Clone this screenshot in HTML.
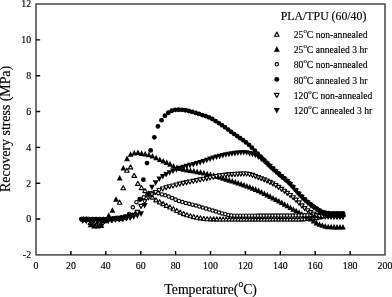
<!DOCTYPE html>
<html lang="en"><head><meta charset="utf-8"><title>Recovery stress vs temperature</title>
<style>html,body{margin:0;padding:0;background:#fff}body{width:392px;height:297px;overflow:hidden}</style></head>
<body>
<svg width="392" height="297" viewBox="0 0 392 297" style="display:block">
<rect width="392" height="297" fill="#fff"/>
<g><polygon points="80.87,220.99 85.37,220.99 83.12,216.94" fill="#fff" stroke="#000" stroke-width="1.15" stroke-linejoin="round"/><polygon points="84.51,221.01 89.01,221.01 86.76,216.96" fill="#fff" stroke="#000" stroke-width="1.15" stroke-linejoin="round"/><polygon points="88.16,224.48 92.66,224.48 90.41,220.43" fill="#fff" stroke="#000" stroke-width="1.15" stroke-linejoin="round"/><polygon points="91.81,225.15 96.31,225.15 94.06,221.10" fill="#fff" stroke="#000" stroke-width="1.15" stroke-linejoin="round"/><polygon points="95.45,225.27 99.95,225.27 97.70,221.22" fill="#fff" stroke="#000" stroke-width="1.15" stroke-linejoin="round"/><polygon points="99.10,224.82 103.60,224.82 101.35,220.77" fill="#fff" stroke="#000" stroke-width="1.15" stroke-linejoin="round"/><polygon points="102.75,222.60 107.25,222.60 105.00,218.55" fill="#fff" stroke="#000" stroke-width="1.15" stroke-linejoin="round"/><polygon points="106.39,220.74 110.89,220.74 108.64,216.69" fill="#fff" stroke="#000" stroke-width="1.15" stroke-linejoin="round"/><polygon points="110.04,220.46 114.54,220.46 112.29,216.41" fill="#fff" stroke="#000" stroke-width="1.15" stroke-linejoin="round"/><polygon points="113.69,220.07 118.19,220.07 115.94,216.02" fill="#fff" stroke="#000" stroke-width="1.15" stroke-linejoin="round"/><polygon points="117.34,204.20 121.84,204.20 119.59,200.15" fill="#fff" stroke="#000" stroke-width="1.15" stroke-linejoin="round"/><polygon points="120.98,189.77 125.48,189.77 123.23,185.72" fill="#fff" stroke="#000" stroke-width="1.15" stroke-linejoin="round"/><polygon points="124.63,172.24 129.13,172.24 126.88,168.19" fill="#fff" stroke="#000" stroke-width="1.15" stroke-linejoin="round"/><polygon points="128.28,168.93 132.78,168.93 130.53,164.88" fill="#fff" stroke="#000" stroke-width="1.15" stroke-linejoin="round"/><polygon points="131.92,177.39 136.42,177.39 134.17,173.34" fill="#fff" stroke="#000" stroke-width="1.15" stroke-linejoin="round"/><polygon points="135.57,185.32 140.07,185.32 137.82,181.27" fill="#fff" stroke="#000" stroke-width="1.15" stroke-linejoin="round"/><polygon points="139.22,189.64 143.72,189.64 141.47,185.59" fill="#fff" stroke="#000" stroke-width="1.15" stroke-linejoin="round"/><polygon points="142.86,192.55 147.36,192.55 145.11,188.50" fill="#fff" stroke="#000" stroke-width="1.15" stroke-linejoin="round"/><polygon points="146.51,195.25 151.01,195.25 148.76,191.20" fill="#fff" stroke="#000" stroke-width="1.15" stroke-linejoin="round"/><polygon points="150.16,199.05 154.66,199.05 152.41,195.00" fill="#fff" stroke="#000" stroke-width="1.15" stroke-linejoin="round"/><polygon points="153.81,201.87 158.31,201.87 156.06,197.82" fill="#fff" stroke="#000" stroke-width="1.15" stroke-linejoin="round"/><polygon points="157.41,203.85 161.91,203.85 159.66,199.80" fill="#fff" stroke="#000" stroke-width="1.15" stroke-linejoin="round"/><polygon points="160.91,205.65 165.41,205.65 163.16,201.60" fill="#fff" stroke="#000" stroke-width="1.15" stroke-linejoin="round"/><polygon points="164.34,207.31 168.84,207.31 166.59,203.26" fill="#fff" stroke="#000" stroke-width="1.15" stroke-linejoin="round"/><polygon points="167.77,208.97 172.27,208.97 170.02,204.92" fill="#fff" stroke="#000" stroke-width="1.15" stroke-linejoin="round"/><polygon points="171.18,210.73 175.68,210.73 173.43,206.68" fill="#fff" stroke="#000" stroke-width="1.15" stroke-linejoin="round"/><polygon points="174.59,212.51 179.09,212.51 176.84,208.46" fill="#fff" stroke="#000" stroke-width="1.15" stroke-linejoin="round"/><polygon points="177.99,214.17 182.49,214.17 180.24,210.12" fill="#fff" stroke="#000" stroke-width="1.15" stroke-linejoin="round"/><polygon points="181.38,215.61 185.88,215.61 183.63,211.56" fill="#fff" stroke="#000" stroke-width="1.15" stroke-linejoin="round"/><polygon points="184.76,216.73 189.26,216.73 187.01,212.68" fill="#fff" stroke="#000" stroke-width="1.15" stroke-linejoin="round"/><polygon points="188.14,217.72 192.64,217.72 190.39,213.67" fill="#fff" stroke="#000" stroke-width="1.15" stroke-linejoin="round"/><polygon points="191.50,218.55 196.00,218.55 193.75,214.50" fill="#fff" stroke="#000" stroke-width="1.15" stroke-linejoin="round"/><polygon points="194.86,219.23 199.36,219.23 197.11,215.18" fill="#fff" stroke="#000" stroke-width="1.15" stroke-linejoin="round"/><polygon points="198.21,219.88 202.71,219.88 200.46,215.83" fill="#fff" stroke="#000" stroke-width="1.15" stroke-linejoin="round"/><polygon points="201.55,220.44 206.05,220.44 203.80,216.39" fill="#fff" stroke="#000" stroke-width="1.15" stroke-linejoin="round"/><polygon points="204.86,220.77 209.36,220.77 207.11,216.72" fill="#fff" stroke="#000" stroke-width="1.15" stroke-linejoin="round"/><polygon points="208.14,220.85 212.64,220.85 210.39,216.80" fill="#fff" stroke="#000" stroke-width="1.15" stroke-linejoin="round"/><polygon points="211.37,220.90 215.87,220.90 213.62,216.85" fill="#fff" stroke="#000" stroke-width="1.15" stroke-linejoin="round"/><polygon points="214.57,220.94 219.07,220.94 216.82,216.89" fill="#fff" stroke="#000" stroke-width="1.15" stroke-linejoin="round"/><polygon points="217.72,220.97 222.22,220.97 219.97,216.92" fill="#fff" stroke="#000" stroke-width="1.15" stroke-linejoin="round"/><polygon points="220.84,220.99 225.34,220.99 223.09,216.94" fill="#fff" stroke="#000" stroke-width="1.15" stroke-linejoin="round"/><polygon points="223.93,220.99 228.43,220.99 226.18,216.94" fill="#fff" stroke="#000" stroke-width="1.15" stroke-linejoin="round"/><polygon points="226.97,220.99 231.47,220.99 229.22,216.94" fill="#fff" stroke="#000" stroke-width="1.15" stroke-linejoin="round"/><polygon points="229.98,220.99 234.48,220.99 232.23,216.94" fill="#fff" stroke="#000" stroke-width="1.15" stroke-linejoin="round"/><polygon points="232.95,220.99 237.45,220.99 235.20,216.94" fill="#fff" stroke="#000" stroke-width="1.15" stroke-linejoin="round"/><polygon points="235.89,220.99 240.39,220.99 238.14,216.94" fill="#fff" stroke="#000" stroke-width="1.15" stroke-linejoin="round"/><polygon points="238.81,220.99 243.31,220.99 241.06,216.94" fill="#fff" stroke="#000" stroke-width="1.15" stroke-linejoin="round"/><polygon points="241.72,220.99 246.22,220.99 243.97,216.94" fill="#fff" stroke="#000" stroke-width="1.15" stroke-linejoin="round"/><polygon points="244.64,220.99 249.14,220.99 246.89,216.94" fill="#fff" stroke="#000" stroke-width="1.15" stroke-linejoin="round"/><polygon points="247.55,220.99 252.05,220.99 249.80,216.94" fill="#fff" stroke="#000" stroke-width="1.15" stroke-linejoin="round"/><polygon points="250.46,220.99 254.96,220.99 252.71,216.94" fill="#fff" stroke="#000" stroke-width="1.15" stroke-linejoin="round"/><polygon points="253.37,220.99 257.87,220.99 255.62,216.94" fill="#fff" stroke="#000" stroke-width="1.15" stroke-linejoin="round"/><polygon points="256.27,220.99 260.77,220.99 258.52,216.94" fill="#fff" stroke="#000" stroke-width="1.15" stroke-linejoin="round"/><polygon points="259.17,220.99 263.67,220.99 261.42,216.94" fill="#fff" stroke="#000" stroke-width="1.15" stroke-linejoin="round"/><polygon points="262.07,220.99 266.57,220.99 264.32,216.94" fill="#fff" stroke="#000" stroke-width="1.15" stroke-linejoin="round"/><polygon points="264.97,220.99 269.47,220.99 267.22,216.94" fill="#fff" stroke="#000" stroke-width="1.15" stroke-linejoin="round"/><polygon points="267.87,220.99 272.37,220.99 270.12,216.94" fill="#fff" stroke="#000" stroke-width="1.15" stroke-linejoin="round"/><polygon points="270.76,220.99 275.26,220.99 273.01,216.94" fill="#fff" stroke="#000" stroke-width="1.15" stroke-linejoin="round"/><polygon points="273.65,220.99 278.15,220.99 275.90,216.94" fill="#fff" stroke="#000" stroke-width="1.15" stroke-linejoin="round"/><polygon points="276.54,220.99 281.04,220.99 278.79,216.94" fill="#fff" stroke="#000" stroke-width="1.15" stroke-linejoin="round"/><polygon points="279.43,220.99 283.93,220.99 281.68,216.94" fill="#fff" stroke="#000" stroke-width="1.15" stroke-linejoin="round"/><polygon points="282.31,220.99 286.81,220.99 284.56,216.94" fill="#fff" stroke="#000" stroke-width="1.15" stroke-linejoin="round"/><polygon points="285.20,220.99 289.70,220.99 287.45,216.94" fill="#fff" stroke="#000" stroke-width="1.15" stroke-linejoin="round"/><polygon points="288.10,220.99 292.60,220.99 290.35,216.94" fill="#fff" stroke="#000" stroke-width="1.15" stroke-linejoin="round"/><polygon points="290.99,220.99 295.49,220.99 293.24,216.94" fill="#fff" stroke="#000" stroke-width="1.15" stroke-linejoin="round"/><polygon points="293.89,220.99 298.39,220.99 296.14,216.94" fill="#fff" stroke="#000" stroke-width="1.15" stroke-linejoin="round"/><polygon points="296.79,220.98 301.29,220.98 299.04,216.93" fill="#fff" stroke="#000" stroke-width="1.15" stroke-linejoin="round"/><polygon points="299.70,220.89 304.20,220.89 301.95,216.84" fill="#fff" stroke="#000" stroke-width="1.15" stroke-linejoin="round"/><polygon points="302.60,220.74 307.10,220.74 304.85,216.69" fill="#fff" stroke="#000" stroke-width="1.15" stroke-linejoin="round"/><polygon points="305.52,220.54 310.02,220.54 307.77,216.49" fill="#fff" stroke="#000" stroke-width="1.15" stroke-linejoin="round"/><polygon points="308.43,220.30 312.93,220.30 310.68,216.25" fill="#fff" stroke="#000" stroke-width="1.15" stroke-linejoin="round"/><polygon points="311.35,220.03 315.85,220.03 313.60,215.98" fill="#fff" stroke="#000" stroke-width="1.15" stroke-linejoin="round"/><polygon points="314.27,219.65 318.77,219.65 316.52,215.60" fill="#fff" stroke="#000" stroke-width="1.15" stroke-linejoin="round"/><polygon points="317.19,218.94 321.69,218.94 319.44,214.89" fill="#fff" stroke="#000" stroke-width="1.15" stroke-linejoin="round"/><polygon points="320.12,218.09 324.62,218.09 322.37,214.04" fill="#fff" stroke="#000" stroke-width="1.15" stroke-linejoin="round"/><polygon points="323.04,217.33 327.54,217.33 325.29,213.28" fill="#fff" stroke="#000" stroke-width="1.15" stroke-linejoin="round"/><polygon points="325.98,216.90 330.48,216.90 328.23,212.85" fill="#fff" stroke="#000" stroke-width="1.15" stroke-linejoin="round"/><polygon points="328.91,216.78 333.41,216.78 331.16,212.73" fill="#fff" stroke="#000" stroke-width="1.15" stroke-linejoin="round"/><polygon points="331.85,216.69 336.35,216.69 334.10,212.64" fill="#fff" stroke="#000" stroke-width="1.15" stroke-linejoin="round"/><polygon points="334.79,216.61 339.29,216.61 337.04,212.56" fill="#fff" stroke="#000" stroke-width="1.15" stroke-linejoin="round"/><polygon points="337.74,216.56 342.24,216.56 339.99,212.51" fill="#fff" stroke="#000" stroke-width="1.15" stroke-linejoin="round"/><polygon points="340.68,216.52 345.18,216.52 342.93,212.47" fill="#fff" stroke="#000" stroke-width="1.15" stroke-linejoin="round"/></g>
<g><polygon points="80.30,221.51 86.10,221.51 83.20,215.96" fill="#000"/><polygon points="83.95,221.74 89.75,221.74 86.85,216.19" fill="#000"/><polygon points="87.60,227.29 93.40,227.29 90.50,221.74" fill="#000"/><polygon points="91.24,228.44 97.04,228.44 94.14,222.89" fill="#000"/><polygon points="94.89,228.57 100.69,228.57 97.79,223.02" fill="#000"/><polygon points="98.54,227.97 104.34,227.97 101.44,222.42" fill="#000"/><polygon points="102.18,222.62 107.98,222.62 105.08,217.07" fill="#000"/><polygon points="105.83,218.12 111.63,218.12 108.73,212.57" fill="#000"/><polygon points="109.48,212.73 115.28,212.73 112.38,207.18" fill="#000"/><polygon points="113.13,201.76 118.93,201.76 116.03,196.21" fill="#000"/><polygon points="116.77,180.62 122.57,180.62 119.67,175.07" fill="#000"/><polygon points="120.42,170.46 126.22,170.46 123.32,164.91" fill="#000"/><polygon points="124.07,161.15 129.87,161.15 126.97,155.60" fill="#000"/><polygon points="127.71,156.76 133.51,156.76 130.61,151.21" fill="#000"/><polygon points="131.36,155.38 137.16,155.38 134.26,149.83" fill="#000"/><polygon points="135.01,154.97 140.81,154.97 137.91,149.42" fill="#000"/><polygon points="138.66,155.91 144.46,155.91 141.56,150.36" fill="#000"/><polygon points="142.30,156.41 148.10,156.41 145.20,150.86" fill="#000"/><polygon points="145.95,157.30 151.75,157.30 148.85,151.75" fill="#000"/><polygon points="149.60,158.61 155.40,158.61 152.50,153.06" fill="#000"/><polygon points="153.24,160.34 159.04,160.34 156.14,154.79" fill="#000"/><polygon points="156.85,162.05 162.65,162.05 159.75,156.50" fill="#000"/><polygon points="160.34,163.48 166.14,163.48 163.24,157.93" fill="#000"/><polygon points="163.77,164.89 169.57,164.89 166.67,159.34" fill="#000"/><polygon points="167.20,166.67 173.00,166.67 170.10,161.12" fill="#000"/><polygon points="170.61,168.61 176.41,168.61 173.51,163.06" fill="#000"/><polygon points="174.02,170.17 179.82,170.17 176.92,164.62" fill="#000"/><polygon points="177.42,171.08 183.22,171.08 180.32,165.53" fill="#000"/><polygon points="180.81,171.76 186.61,171.76 183.71,166.21" fill="#000"/><polygon points="184.19,172.38 189.99,172.38 187.09,166.83" fill="#000"/><polygon points="187.56,173.02 193.36,173.02 190.46,167.47" fill="#000"/><polygon points="190.93,173.62 196.73,173.62 193.83,168.07" fill="#000"/><polygon points="194.28,174.22 200.08,174.22 197.18,168.67" fill="#000"/><polygon points="197.63,174.87 203.43,174.87 200.53,169.32" fill="#000"/><polygon points="200.97,175.54 206.77,175.54 203.87,169.99" fill="#000"/><polygon points="204.28,176.23 210.08,176.23 207.18,170.68" fill="#000"/><polygon points="207.55,176.97 213.35,176.97 210.45,171.42" fill="#000"/><polygon points="210.78,177.76 216.58,177.76 213.68,172.21" fill="#000"/><polygon points="213.98,178.70 219.78,178.70 216.88,173.15" fill="#000"/><polygon points="217.13,179.74 222.93,179.74 220.03,174.19" fill="#000"/><polygon points="220.25,180.74 226.05,180.74 223.15,175.19" fill="#000"/><polygon points="223.33,181.70 229.13,181.70 226.23,176.15" fill="#000"/><polygon points="226.37,182.65 232.17,182.65 229.27,177.10" fill="#000"/><polygon points="229.38,183.59 235.18,183.59 232.28,178.04" fill="#000"/><polygon points="232.35,184.55 238.15,184.55 235.25,179.00" fill="#000"/><polygon points="235.28,185.49 241.08,185.49 238.18,179.94" fill="#000"/><polygon points="238.20,186.44 244.00,186.44 241.10,180.89" fill="#000"/><polygon points="241.12,187.43 246.92,187.43 244.02,181.88" fill="#000"/><polygon points="244.03,188.47 249.83,188.47 246.93,182.92" fill="#000"/><polygon points="246.94,189.56 252.74,189.56 249.84,184.01" fill="#000"/><polygon points="249.85,190.70 255.65,190.70 252.75,185.15" fill="#000"/><polygon points="252.75,191.90 258.55,191.90 255.65,186.35" fill="#000"/><polygon points="255.66,193.15 261.46,193.15 258.56,187.60" fill="#000"/><polygon points="258.56,194.50 264.36,194.50 261.46,188.95" fill="#000"/><polygon points="261.46,195.93 267.26,195.93 264.36,190.38" fill="#000"/><polygon points="264.35,197.41 270.15,197.41 267.25,191.86" fill="#000"/><polygon points="267.25,198.92 273.05,198.92 270.15,193.37" fill="#000"/><polygon points="270.14,200.43 275.94,200.43 273.04,194.88" fill="#000"/><polygon points="273.03,201.97 278.83,201.97 275.93,196.42" fill="#000"/><polygon points="275.91,203.53 281.71,203.53 278.81,197.98" fill="#000"/><polygon points="278.80,205.12 284.60,205.12 281.70,199.57" fill="#000"/><polygon points="281.68,206.73 287.48,206.73 284.58,201.18" fill="#000"/><polygon points="284.57,208.36 290.37,208.36 287.47,202.81" fill="#000"/><polygon points="287.46,210.06 293.26,210.06 290.36,204.51" fill="#000"/><polygon points="290.36,211.76 296.16,211.76 293.26,206.21" fill="#000"/><polygon points="293.26,213.37 299.06,213.37 296.16,207.82" fill="#000"/><polygon points="296.16,214.91 301.96,214.91 299.06,209.36" fill="#000"/><polygon points="299.06,216.43 304.86,216.43 301.96,210.88" fill="#000"/><polygon points="301.97,217.99 307.77,217.99 304.87,212.44" fill="#000"/><polygon points="304.87,219.61 310.67,219.61 307.77,214.06" fill="#000"/><polygon points="307.79,221.49 313.59,221.49 310.69,215.94" fill="#000"/><polygon points="310.70,223.52 316.50,223.52 313.60,217.97" fill="#000"/><polygon points="313.62,225.41 319.42,225.41 316.52,219.86" fill="#000"/><polygon points="316.54,226.83 322.34,226.83 319.44,221.28" fill="#000"/><polygon points="319.47,227.79 325.27,227.79 322.37,222.24" fill="#000"/><polygon points="322.40,228.63 328.20,228.63 325.30,223.08" fill="#000"/><polygon points="325.33,229.19 331.13,229.19 328.23,223.64" fill="#000"/><polygon points="328.26,229.36 334.06,229.36 331.16,223.81" fill="#000"/><polygon points="331.20,229.41 337.00,229.41 334.10,223.86" fill="#000"/><polygon points="334.14,229.46 339.94,229.46 337.04,223.91" fill="#000"/><polygon points="337.08,229.49 342.88,229.49 339.98,223.94" fill="#000"/><polygon points="340.03,229.50 345.83,229.50 342.93,223.95" fill="#000"/></g>
<g><circle cx="81.72" cy="219.06" r="1.7" fill="#fff" stroke="#000" stroke-width="1.15" stroke-linejoin="round"/><circle cx="85.37" cy="219.06" r="1.7" fill="#fff" stroke="#000" stroke-width="1.15" stroke-linejoin="round"/><circle cx="89.01" cy="219.06" r="1.7" fill="#fff" stroke="#000" stroke-width="1.15" stroke-linejoin="round"/><circle cx="92.66" cy="219.06" r="1.7" fill="#fff" stroke="#000" stroke-width="1.15" stroke-linejoin="round"/><circle cx="96.31" cy="219.06" r="1.7" fill="#fff" stroke="#000" stroke-width="1.15" stroke-linejoin="round"/><circle cx="99.95" cy="219.06" r="1.7" fill="#fff" stroke="#000" stroke-width="1.15" stroke-linejoin="round"/><circle cx="103.60" cy="219.06" r="1.7" fill="#fff" stroke="#000" stroke-width="1.15" stroke-linejoin="round"/><circle cx="107.25" cy="219.06" r="1.7" fill="#fff" stroke="#000" stroke-width="1.15" stroke-linejoin="round"/><circle cx="110.90" cy="219.06" r="1.7" fill="#fff" stroke="#000" stroke-width="1.15" stroke-linejoin="round"/><circle cx="114.54" cy="219.06" r="1.7" fill="#fff" stroke="#000" stroke-width="1.15" stroke-linejoin="round"/><circle cx="118.19" cy="219.06" r="1.7" fill="#fff" stroke="#000" stroke-width="1.15" stroke-linejoin="round"/><circle cx="121.84" cy="219.06" r="1.7" fill="#fff" stroke="#000" stroke-width="1.15" stroke-linejoin="round"/><circle cx="125.48" cy="217.81" r="1.7" fill="#fff" stroke="#000" stroke-width="1.15" stroke-linejoin="round"/><circle cx="129.13" cy="213.98" r="1.7" fill="#fff" stroke="#000" stroke-width="1.15" stroke-linejoin="round"/><circle cx="132.78" cy="207.28" r="1.7" fill="#fff" stroke="#000" stroke-width="1.15" stroke-linejoin="round"/><circle cx="136.42" cy="202.15" r="1.7" fill="#fff" stroke="#000" stroke-width="1.15" stroke-linejoin="round"/><circle cx="140.07" cy="199.62" r="1.7" fill="#fff" stroke="#000" stroke-width="1.15" stroke-linejoin="round"/><circle cx="143.72" cy="197.35" r="1.7" fill="#fff" stroke="#000" stroke-width="1.15" stroke-linejoin="round"/><circle cx="147.37" cy="194.76" r="1.7" fill="#fff" stroke="#000" stroke-width="1.15" stroke-linejoin="round"/><circle cx="151.01" cy="192.98" r="1.7" fill="#fff" stroke="#000" stroke-width="1.15" stroke-linejoin="round"/><circle cx="154.66" cy="192.36" r="1.7" fill="#fff" stroke="#000" stroke-width="1.15" stroke-linejoin="round"/><circle cx="158.31" cy="193.20" r="1.7" fill="#fff" stroke="#000" stroke-width="1.15" stroke-linejoin="round"/><circle cx="161.84" cy="194.44" r="1.7" fill="#fff" stroke="#000" stroke-width="1.15" stroke-linejoin="round"/><circle cx="165.28" cy="195.34" r="1.7" fill="#fff" stroke="#000" stroke-width="1.15" stroke-linejoin="round"/><circle cx="168.71" cy="196.52" r="1.7" fill="#fff" stroke="#000" stroke-width="1.15" stroke-linejoin="round"/><circle cx="172.14" cy="198.09" r="1.7" fill="#fff" stroke="#000" stroke-width="1.15" stroke-linejoin="round"/><circle cx="175.55" cy="199.64" r="1.7" fill="#fff" stroke="#000" stroke-width="1.15" stroke-linejoin="round"/><circle cx="178.97" cy="200.95" r="1.7" fill="#fff" stroke="#000" stroke-width="1.15" stroke-linejoin="round"/><circle cx="182.37" cy="202.04" r="1.7" fill="#fff" stroke="#000" stroke-width="1.15" stroke-linejoin="round"/><circle cx="185.77" cy="203.00" r="1.7" fill="#fff" stroke="#000" stroke-width="1.15" stroke-linejoin="round"/><circle cx="189.16" cy="203.86" r="1.7" fill="#fff" stroke="#000" stroke-width="1.15" stroke-linejoin="round"/><circle cx="192.55" cy="204.70" r="1.7" fill="#fff" stroke="#000" stroke-width="1.15" stroke-linejoin="round"/><circle cx="195.93" cy="205.59" r="1.7" fill="#fff" stroke="#000" stroke-width="1.15" stroke-linejoin="round"/><circle cx="199.30" cy="206.55" r="1.7" fill="#fff" stroke="#000" stroke-width="1.15" stroke-linejoin="round"/><circle cx="202.67" cy="207.56" r="1.7" fill="#fff" stroke="#000" stroke-width="1.15" stroke-linejoin="round"/><circle cx="206.02" cy="208.59" r="1.7" fill="#fff" stroke="#000" stroke-width="1.15" stroke-linejoin="round"/><circle cx="209.33" cy="209.59" r="1.7" fill="#fff" stroke="#000" stroke-width="1.15" stroke-linejoin="round"/><circle cx="212.60" cy="210.56" r="1.7" fill="#fff" stroke="#000" stroke-width="1.15" stroke-linejoin="round"/><circle cx="215.83" cy="211.57" r="1.7" fill="#fff" stroke="#000" stroke-width="1.15" stroke-linejoin="round"/><circle cx="219.03" cy="212.56" r="1.7" fill="#fff" stroke="#000" stroke-width="1.15" stroke-linejoin="round"/><circle cx="222.18" cy="213.47" r="1.7" fill="#fff" stroke="#000" stroke-width="1.15" stroke-linejoin="round"/><circle cx="225.30" cy="214.24" r="1.7" fill="#fff" stroke="#000" stroke-width="1.15" stroke-linejoin="round"/><circle cx="228.38" cy="214.91" r="1.7" fill="#fff" stroke="#000" stroke-width="1.15" stroke-linejoin="round"/><circle cx="231.42" cy="215.49" r="1.7" fill="#fff" stroke="#000" stroke-width="1.15" stroke-linejoin="round"/><circle cx="234.42" cy="215.65" r="1.7" fill="#fff" stroke="#000" stroke-width="1.15" stroke-linejoin="round"/><circle cx="237.39" cy="215.65" r="1.7" fill="#fff" stroke="#000" stroke-width="1.15" stroke-linejoin="round"/><circle cx="240.33" cy="215.65" r="1.7" fill="#fff" stroke="#000" stroke-width="1.15" stroke-linejoin="round"/><circle cx="243.27" cy="215.65" r="1.7" fill="#fff" stroke="#000" stroke-width="1.15" stroke-linejoin="round"/><circle cx="246.21" cy="215.65" r="1.7" fill="#fff" stroke="#000" stroke-width="1.15" stroke-linejoin="round"/><circle cx="249.14" cy="215.65" r="1.7" fill="#fff" stroke="#000" stroke-width="1.15" stroke-linejoin="round"/><circle cx="252.07" cy="215.65" r="1.7" fill="#fff" stroke="#000" stroke-width="1.15" stroke-linejoin="round"/><circle cx="255.00" cy="215.65" r="1.7" fill="#fff" stroke="#000" stroke-width="1.15" stroke-linejoin="round"/><circle cx="257.93" cy="215.64" r="1.7" fill="#fff" stroke="#000" stroke-width="1.15" stroke-linejoin="round"/><circle cx="260.86" cy="215.64" r="1.7" fill="#fff" stroke="#000" stroke-width="1.15" stroke-linejoin="round"/><circle cx="263.78" cy="215.63" r="1.7" fill="#fff" stroke="#000" stroke-width="1.15" stroke-linejoin="round"/><circle cx="266.70" cy="215.62" r="1.7" fill="#fff" stroke="#000" stroke-width="1.15" stroke-linejoin="round"/><circle cx="269.62" cy="215.61" r="1.7" fill="#fff" stroke="#000" stroke-width="1.15" stroke-linejoin="round"/><circle cx="272.53" cy="215.60" r="1.7" fill="#fff" stroke="#000" stroke-width="1.15" stroke-linejoin="round"/><circle cx="275.44" cy="215.59" r="1.7" fill="#fff" stroke="#000" stroke-width="1.15" stroke-linejoin="round"/><circle cx="278.36" cy="215.58" r="1.7" fill="#fff" stroke="#000" stroke-width="1.15" stroke-linejoin="round"/><circle cx="281.26" cy="215.57" r="1.7" fill="#fff" stroke="#000" stroke-width="1.15" stroke-linejoin="round"/><circle cx="284.17" cy="215.55" r="1.7" fill="#fff" stroke="#000" stroke-width="1.15" stroke-linejoin="round"/><circle cx="287.08" cy="215.54" r="1.7" fill="#fff" stroke="#000" stroke-width="1.15" stroke-linejoin="round"/><circle cx="290.00" cy="215.52" r="1.7" fill="#fff" stroke="#000" stroke-width="1.15" stroke-linejoin="round"/><circle cx="292.91" cy="215.50" r="1.7" fill="#fff" stroke="#000" stroke-width="1.15" stroke-linejoin="round"/><circle cx="295.83" cy="215.48" r="1.7" fill="#fff" stroke="#000" stroke-width="1.15" stroke-linejoin="round"/><circle cx="298.76" cy="215.46" r="1.7" fill="#fff" stroke="#000" stroke-width="1.15" stroke-linejoin="round"/><circle cx="301.68" cy="215.41" r="1.7" fill="#fff" stroke="#000" stroke-width="1.15" stroke-linejoin="round"/><circle cx="304.61" cy="215.33" r="1.7" fill="#fff" stroke="#000" stroke-width="1.15" stroke-linejoin="round"/><circle cx="307.55" cy="215.23" r="1.7" fill="#fff" stroke="#000" stroke-width="1.15" stroke-linejoin="round"/><circle cx="310.48" cy="215.12" r="1.7" fill="#fff" stroke="#000" stroke-width="1.15" stroke-linejoin="round"/><circle cx="313.42" cy="214.99" r="1.7" fill="#fff" stroke="#000" stroke-width="1.15" stroke-linejoin="round"/><circle cx="316.36" cy="214.87" r="1.7" fill="#fff" stroke="#000" stroke-width="1.15" stroke-linejoin="round"/><circle cx="319.31" cy="214.74" r="1.7" fill="#fff" stroke="#000" stroke-width="1.15" stroke-linejoin="round"/><circle cx="322.25" cy="214.62" r="1.7" fill="#fff" stroke="#000" stroke-width="1.15" stroke-linejoin="round"/><circle cx="325.21" cy="214.51" r="1.7" fill="#fff" stroke="#000" stroke-width="1.15" stroke-linejoin="round"/><circle cx="328.16" cy="214.40" r="1.7" fill="#fff" stroke="#000" stroke-width="1.15" stroke-linejoin="round"/><circle cx="331.12" cy="214.28" r="1.7" fill="#fff" stroke="#000" stroke-width="1.15" stroke-linejoin="round"/><circle cx="334.08" cy="214.16" r="1.7" fill="#fff" stroke="#000" stroke-width="1.15" stroke-linejoin="round"/><circle cx="337.04" cy="214.04" r="1.7" fill="#fff" stroke="#000" stroke-width="1.15" stroke-linejoin="round"/><circle cx="340.01" cy="213.92" r="1.7" fill="#fff" stroke="#000" stroke-width="1.15" stroke-linejoin="round"/><circle cx="342.98" cy="213.79" r="1.7" fill="#fff" stroke="#000" stroke-width="1.15" stroke-linejoin="round"/></g>
<g><circle cx="81.37" cy="219.06" r="2.4" fill="#000"/><circle cx="85.02" cy="219.06" r="2.4" fill="#000"/><circle cx="88.66" cy="219.06" r="2.4" fill="#000"/><circle cx="92.31" cy="219.06" r="2.4" fill="#000"/><circle cx="95.96" cy="219.06" r="2.4" fill="#000"/><circle cx="99.61" cy="219.06" r="2.4" fill="#000"/><circle cx="103.25" cy="219.06" r="2.4" fill="#000"/><circle cx="106.90" cy="219.03" r="2.4" fill="#000"/><circle cx="110.55" cy="218.79" r="2.4" fill="#000"/><circle cx="114.19" cy="218.41" r="2.4" fill="#000"/><circle cx="117.84" cy="217.94" r="2.4" fill="#000"/><circle cx="121.49" cy="217.22" r="2.4" fill="#000"/><circle cx="125.13" cy="216.33" r="2.4" fill="#000"/><circle cx="128.78" cy="215.49" r="2.4" fill="#000"/><circle cx="132.43" cy="214.90" r="2.4" fill="#000"/><circle cx="136.08" cy="213.73" r="2.4" fill="#000"/><circle cx="139.72" cy="199.10" r="2.4" fill="#000"/><circle cx="143.37" cy="179.64" r="2.4" fill="#000"/><circle cx="147.02" cy="163.07" r="2.4" fill="#000"/><circle cx="150.66" cy="150.42" r="2.4" fill="#000"/><circle cx="154.31" cy="137.34" r="2.4" fill="#000"/><circle cx="157.96" cy="126.39" r="2.4" fill="#000"/><circle cx="161.51" cy="120.16" r="2.4" fill="#000"/><circle cx="164.95" cy="115.65" r="2.4" fill="#000"/><circle cx="168.38" cy="112.73" r="2.4" fill="#000"/><circle cx="171.81" cy="110.75" r="2.4" fill="#000"/><circle cx="175.23" cy="109.86" r="2.4" fill="#000"/><circle cx="178.64" cy="109.74" r="2.4" fill="#000"/><circle cx="182.05" cy="109.87" r="2.4" fill="#000"/><circle cx="185.45" cy="110.24" r="2.4" fill="#000"/><circle cx="188.84" cy="110.99" r="2.4" fill="#000"/><circle cx="192.23" cy="111.94" r="2.4" fill="#000"/><circle cx="195.62" cy="112.89" r="2.4" fill="#000"/><circle cx="199.00" cy="113.96" r="2.4" fill="#000"/><circle cx="202.37" cy="115.07" r="2.4" fill="#000"/><circle cx="205.73" cy="116.18" r="2.4" fill="#000"/><circle cx="209.05" cy="117.39" r="2.4" fill="#000"/><circle cx="212.33" cy="119.01" r="2.4" fill="#000"/><circle cx="215.57" cy="121.04" r="2.4" fill="#000"/><circle cx="218.77" cy="123.09" r="2.4" fill="#000"/><circle cx="221.93" cy="125.18" r="2.4" fill="#000"/><circle cx="225.05" cy="127.34" r="2.4" fill="#000"/><circle cx="228.14" cy="129.60" r="2.4" fill="#000"/><circle cx="231.19" cy="131.90" r="2.4" fill="#000"/><circle cx="234.20" cy="134.05" r="2.4" fill="#000"/><circle cx="237.18" cy="136.08" r="2.4" fill="#000"/><circle cx="240.12" cy="138.14" r="2.4" fill="#000"/><circle cx="243.07" cy="140.22" r="2.4" fill="#000"/><circle cx="246.01" cy="142.39" r="2.4" fill="#000"/><circle cx="248.95" cy="144.86" r="2.4" fill="#000"/><circle cx="251.88" cy="147.68" r="2.4" fill="#000"/><circle cx="254.82" cy="150.70" r="2.4" fill="#000"/><circle cx="257.75" cy="153.77" r="2.4" fill="#000"/><circle cx="260.68" cy="156.75" r="2.4" fill="#000"/><circle cx="263.61" cy="159.75" r="2.4" fill="#000"/><circle cx="266.53" cy="162.70" r="2.4" fill="#000"/><circle cx="269.45" cy="165.51" r="2.4" fill="#000"/><circle cx="272.37" cy="168.20" r="2.4" fill="#000"/><circle cx="275.29" cy="170.81" r="2.4" fill="#000"/><circle cx="278.21" cy="173.36" r="2.4" fill="#000"/><circle cx="281.12" cy="175.86" r="2.4" fill="#000"/><circle cx="284.03" cy="178.21" r="2.4" fill="#000"/><circle cx="286.95" cy="180.63" r="2.4" fill="#000"/><circle cx="289.86" cy="183.46" r="2.4" fill="#000"/><circle cx="292.78" cy="186.69" r="2.4" fill="#000"/><circle cx="295.71" cy="190.08" r="2.4" fill="#000"/><circle cx="298.64" cy="193.39" r="2.4" fill="#000"/><circle cx="301.57" cy="196.40" r="2.4" fill="#000"/><circle cx="304.50" cy="199.19" r="2.4" fill="#000"/><circle cx="307.44" cy="201.80" r="2.4" fill="#000"/><circle cx="310.38" cy="204.23" r="2.4" fill="#000"/><circle cx="313.32" cy="206.47" r="2.4" fill="#000"/><circle cx="316.27" cy="208.46" r="2.4" fill="#000"/><circle cx="319.22" cy="210.38" r="2.4" fill="#000"/><circle cx="322.17" cy="211.87" r="2.4" fill="#000"/><circle cx="325.12" cy="212.62" r="2.4" fill="#000"/><circle cx="328.08" cy="213.17" r="2.4" fill="#000"/><circle cx="331.04" cy="213.47" r="2.4" fill="#000"/><circle cx="334.01" cy="213.50" r="2.4" fill="#000"/><circle cx="336.98" cy="213.50" r="2.4" fill="#000"/><circle cx="339.95" cy="213.50" r="2.4" fill="#000"/><circle cx="342.92" cy="213.50" r="2.4" fill="#000"/></g>
<g><polygon points="80.43,218.72 84.93,218.72 82.68,222.77" fill="#fff" stroke="#000" stroke-width="1.15" stroke-linejoin="round"/><polygon points="84.08,218.87 88.58,218.87 86.33,222.92" fill="#fff" stroke="#000" stroke-width="1.15" stroke-linejoin="round"/><polygon points="87.72,218.98 92.22,218.98 89.97,223.03" fill="#fff" stroke="#000" stroke-width="1.15" stroke-linejoin="round"/><polygon points="91.37,219.04 95.87,219.04 93.62,223.09" fill="#fff" stroke="#000" stroke-width="1.15" stroke-linejoin="round"/><polygon points="95.02,219.07 99.52,219.07 97.27,223.12" fill="#fff" stroke="#000" stroke-width="1.15" stroke-linejoin="round"/><polygon points="98.66,219.09 103.16,219.09 100.91,223.14" fill="#fff" stroke="#000" stroke-width="1.15" stroke-linejoin="round"/><polygon points="102.31,219.09 106.81,219.09 104.56,223.14" fill="#fff" stroke="#000" stroke-width="1.15" stroke-linejoin="round"/><polygon points="105.96,218.92 110.46,218.92 108.21,222.97" fill="#fff" stroke="#000" stroke-width="1.15" stroke-linejoin="round"/><polygon points="109.61,218.38 114.11,218.38 111.86,222.43" fill="#fff" stroke="#000" stroke-width="1.15" stroke-linejoin="round"/><polygon points="113.25,217.77 117.75,217.77 115.50,221.82" fill="#fff" stroke="#000" stroke-width="1.15" stroke-linejoin="round"/><polygon points="116.90,217.32 121.40,217.32 119.15,221.37" fill="#fff" stroke="#000" stroke-width="1.15" stroke-linejoin="round"/><polygon points="120.55,216.92 125.05,216.92 122.80,220.97" fill="#fff" stroke="#000" stroke-width="1.15" stroke-linejoin="round"/><polygon points="124.19,216.42 128.69,216.42 126.44,220.47" fill="#fff" stroke="#000" stroke-width="1.15" stroke-linejoin="round"/><polygon points="127.84,215.67 132.34,215.67 130.09,219.72" fill="#fff" stroke="#000" stroke-width="1.15" stroke-linejoin="round"/><polygon points="131.49,214.26 135.99,214.26 133.74,218.31" fill="#fff" stroke="#000" stroke-width="1.15" stroke-linejoin="round"/><polygon points="135.13,210.42 139.63,210.42 137.38,214.47" fill="#fff" stroke="#000" stroke-width="1.15" stroke-linejoin="round"/><polygon points="138.78,204.34 143.28,204.34 141.03,208.39" fill="#fff" stroke="#000" stroke-width="1.15" stroke-linejoin="round"/><polygon points="142.43,199.58 146.93,199.58 144.68,203.63" fill="#fff" stroke="#000" stroke-width="1.15" stroke-linejoin="round"/><polygon points="146.08,195.78 150.58,195.78 148.33,199.83" fill="#fff" stroke="#000" stroke-width="1.15" stroke-linejoin="round"/><polygon points="149.72,192.85 154.22,192.85 151.97,196.90" fill="#fff" stroke="#000" stroke-width="1.15" stroke-linejoin="round"/><polygon points="153.37,190.47 157.87,190.47 155.62,194.52" fill="#fff" stroke="#000" stroke-width="1.15" stroke-linejoin="round"/><polygon points="156.99,188.53 161.49,188.53 159.24,192.58" fill="#fff" stroke="#000" stroke-width="1.15" stroke-linejoin="round"/><polygon points="160.50,187.00 165.00,187.00 162.75,191.05" fill="#fff" stroke="#000" stroke-width="1.15" stroke-linejoin="round"/><polygon points="163.93,185.72 168.43,185.72 166.18,189.77" fill="#fff" stroke="#000" stroke-width="1.15" stroke-linejoin="round"/><polygon points="167.36,184.71 171.86,184.71 169.61,188.76" fill="#fff" stroke="#000" stroke-width="1.15" stroke-linejoin="round"/><polygon points="170.78,183.98 175.28,183.98 173.03,188.03" fill="#fff" stroke="#000" stroke-width="1.15" stroke-linejoin="round"/><polygon points="174.19,183.03 178.69,183.03 176.44,187.08" fill="#fff" stroke="#000" stroke-width="1.15" stroke-linejoin="round"/><polygon points="177.59,182.09 182.09,182.09 179.84,186.14" fill="#fff" stroke="#000" stroke-width="1.15" stroke-linejoin="round"/><polygon points="180.99,181.36 185.49,181.36 183.24,185.41" fill="#fff" stroke="#000" stroke-width="1.15" stroke-linejoin="round"/><polygon points="184.37,180.66 188.87,180.66 186.62,184.71" fill="#fff" stroke="#000" stroke-width="1.15" stroke-linejoin="round"/><polygon points="187.75,179.97 192.25,179.97 190.00,184.02" fill="#fff" stroke="#000" stroke-width="1.15" stroke-linejoin="round"/><polygon points="191.13,179.30 195.63,179.30 193.38,183.35" fill="#fff" stroke="#000" stroke-width="1.15" stroke-linejoin="round"/><polygon points="194.49,178.62 198.99,178.62 196.74,182.67" fill="#fff" stroke="#000" stroke-width="1.15" stroke-linejoin="round"/><polygon points="197.84,177.94 202.34,177.94 200.09,181.99" fill="#fff" stroke="#000" stroke-width="1.15" stroke-linejoin="round"/><polygon points="201.19,177.26 205.69,177.26 203.44,181.31" fill="#fff" stroke="#000" stroke-width="1.15" stroke-linejoin="round"/><polygon points="204.52,176.59 209.02,176.59 206.77,180.64" fill="#fff" stroke="#000" stroke-width="1.15" stroke-linejoin="round"/><polygon points="207.80,175.92 212.30,175.92 210.05,179.97" fill="#fff" stroke="#000" stroke-width="1.15" stroke-linejoin="round"/><polygon points="211.04,175.21 215.54,175.21 213.29,179.26" fill="#fff" stroke="#000" stroke-width="1.15" stroke-linejoin="round"/><polygon points="214.25,174.52 218.75,174.52 216.50,178.57" fill="#fff" stroke="#000" stroke-width="1.15" stroke-linejoin="round"/><polygon points="217.42,173.94 221.92,173.94 219.67,177.99" fill="#fff" stroke="#000" stroke-width="1.15" stroke-linejoin="round"/><polygon points="220.55,173.52 225.05,173.52 222.80,177.57" fill="#fff" stroke="#000" stroke-width="1.15" stroke-linejoin="round"/><polygon points="223.64,173.15 228.14,173.15 225.89,177.20" fill="#fff" stroke="#000" stroke-width="1.15" stroke-linejoin="round"/><polygon points="226.69,172.85 231.19,172.85 228.94,176.90" fill="#fff" stroke="#000" stroke-width="1.15" stroke-linejoin="round"/><polygon points="229.71,172.60 234.21,172.60 231.96,176.65" fill="#fff" stroke="#000" stroke-width="1.15" stroke-linejoin="round"/><polygon points="232.69,172.41 237.19,172.41 234.94,176.46" fill="#fff" stroke="#000" stroke-width="1.15" stroke-linejoin="round"/><polygon points="235.64,172.23 240.14,172.23 237.89,176.28" fill="#fff" stroke="#000" stroke-width="1.15" stroke-linejoin="round"/><polygon points="238.57,172.08 243.07,172.08 240.82,176.13" fill="#fff" stroke="#000" stroke-width="1.15" stroke-linejoin="round"/><polygon points="241.49,171.98 245.99,171.98 243.74,176.03" fill="#fff" stroke="#000" stroke-width="1.15" stroke-linejoin="round"/><polygon points="244.41,171.98 248.91,171.98 246.66,176.03" fill="#fff" stroke="#000" stroke-width="1.15" stroke-linejoin="round"/><polygon points="247.33,172.46 251.83,172.46 249.58,176.51" fill="#fff" stroke="#000" stroke-width="1.15" stroke-linejoin="round"/><polygon points="250.24,173.39 254.74,173.39 252.49,177.44" fill="#fff" stroke="#000" stroke-width="1.15" stroke-linejoin="round"/><polygon points="253.15,174.54 257.65,174.54 255.40,178.59" fill="#fff" stroke="#000" stroke-width="1.15" stroke-linejoin="round"/><polygon points="256.06,175.65 260.56,175.65 258.31,179.70" fill="#fff" stroke="#000" stroke-width="1.15" stroke-linejoin="round"/><polygon points="258.97,176.70 263.47,176.70 261.22,180.75" fill="#fff" stroke="#000" stroke-width="1.15" stroke-linejoin="round"/><polygon points="261.88,177.82 266.38,177.82 264.13,181.87" fill="#fff" stroke="#000" stroke-width="1.15" stroke-linejoin="round"/><polygon points="264.78,179.04 269.28,179.04 267.03,183.09" fill="#fff" stroke="#000" stroke-width="1.15" stroke-linejoin="round"/><polygon points="267.68,180.36 272.18,180.36 269.93,184.41" fill="#fff" stroke="#000" stroke-width="1.15" stroke-linejoin="round"/><polygon points="270.58,181.84 275.08,181.84 272.83,185.89" fill="#fff" stroke="#000" stroke-width="1.15" stroke-linejoin="round"/><polygon points="273.48,183.53 277.98,183.53 275.73,187.58" fill="#fff" stroke="#000" stroke-width="1.15" stroke-linejoin="round"/><polygon points="276.38,185.37 280.88,185.37 278.63,189.42" fill="#fff" stroke="#000" stroke-width="1.15" stroke-linejoin="round"/><polygon points="279.27,187.31 283.77,187.31 281.52,191.36" fill="#fff" stroke="#000" stroke-width="1.15" stroke-linejoin="round"/><polygon points="282.16,189.28 286.66,189.28 284.41,193.33" fill="#fff" stroke="#000" stroke-width="1.15" stroke-linejoin="round"/><polygon points="285.06,191.32 289.56,191.32 287.31,195.37" fill="#fff" stroke="#000" stroke-width="1.15" stroke-linejoin="round"/><polygon points="287.95,193.46 292.45,193.46 290.20,197.51" fill="#fff" stroke="#000" stroke-width="1.15" stroke-linejoin="round"/><polygon points="290.85,195.72 295.35,195.72 293.10,199.77" fill="#fff" stroke="#000" stroke-width="1.15" stroke-linejoin="round"/><polygon points="293.76,198.11 298.26,198.11 296.01,202.16" fill="#fff" stroke="#000" stroke-width="1.15" stroke-linejoin="round"/><polygon points="296.67,200.91 301.17,200.91 298.92,204.96" fill="#fff" stroke="#000" stroke-width="1.15" stroke-linejoin="round"/><polygon points="299.58,203.86 304.08,203.86 301.83,207.91" fill="#fff" stroke="#000" stroke-width="1.15" stroke-linejoin="round"/><polygon points="302.49,206.60 306.99,206.60 304.74,210.65" fill="#fff" stroke="#000" stroke-width="1.15" stroke-linejoin="round"/><polygon points="305.41,208.77 309.91,208.77 307.66,212.82" fill="#fff" stroke="#000" stroke-width="1.15" stroke-linejoin="round"/><polygon points="308.33,210.57 312.83,210.57 310.58,214.62" fill="#fff" stroke="#000" stroke-width="1.15" stroke-linejoin="round"/><polygon points="311.25,212.23 315.75,212.23 313.50,216.28" fill="#fff" stroke="#000" stroke-width="1.15" stroke-linejoin="round"/><polygon points="314.18,213.56 318.68,213.56 316.43,217.61" fill="#fff" stroke="#000" stroke-width="1.15" stroke-linejoin="round"/><polygon points="317.10,214.36 321.60,214.36 319.35,218.41" fill="#fff" stroke="#000" stroke-width="1.15" stroke-linejoin="round"/><polygon points="320.04,214.66 324.54,214.66 322.29,218.71" fill="#fff" stroke="#000" stroke-width="1.15" stroke-linejoin="round"/><polygon points="322.97,214.87 327.47,214.87 325.22,218.92" fill="#fff" stroke="#000" stroke-width="1.15" stroke-linejoin="round"/><polygon points="325.91,214.97 330.41,214.97 328.16,219.02" fill="#fff" stroke="#000" stroke-width="1.15" stroke-linejoin="round"/><polygon points="328.85,214.97 333.35,214.97 331.10,219.02" fill="#fff" stroke="#000" stroke-width="1.15" stroke-linejoin="round"/><polygon points="331.79,214.97 336.29,214.97 334.04,219.02" fill="#fff" stroke="#000" stroke-width="1.15" stroke-linejoin="round"/><polygon points="334.74,214.97 339.24,214.97 336.99,219.02" fill="#fff" stroke="#000" stroke-width="1.15" stroke-linejoin="round"/><polygon points="337.69,214.97 342.19,214.97 339.94,219.02" fill="#fff" stroke="#000" stroke-width="1.15" stroke-linejoin="round"/><polygon points="340.65,214.97 345.15,214.97 342.90,219.02" fill="#fff" stroke="#000" stroke-width="1.15" stroke-linejoin="round"/></g>
<g><polygon points="79.78,218.27 85.58,218.27 82.68,223.82" fill="#000"/><polygon points="83.43,218.42 89.23,218.42 86.33,223.97" fill="#000"/><polygon points="87.07,218.53 92.87,218.53 89.97,224.08" fill="#000"/><polygon points="90.72,218.59 96.52,218.59 93.62,224.14" fill="#000"/><polygon points="94.37,218.62 100.17,218.62 97.27,224.17" fill="#000"/><polygon points="98.01,218.64 103.81,218.64 100.91,224.19" fill="#000"/><polygon points="101.66,218.64 107.46,218.64 104.56,224.19" fill="#000"/><polygon points="105.31,218.47 111.11,218.47 108.21,224.02" fill="#000"/><polygon points="108.96,217.93 114.76,217.93 111.86,223.48" fill="#000"/><polygon points="112.60,217.32 118.40,217.32 115.50,222.87" fill="#000"/><polygon points="116.25,216.86 122.05,216.86 119.15,222.41" fill="#000"/><polygon points="119.90,216.43 125.70,216.43 122.80,221.98" fill="#000"/><polygon points="123.54,215.94 129.34,215.94 126.44,221.49" fill="#000"/><polygon points="127.19,215.27 132.99,215.27 130.09,220.82" fill="#000"/><polygon points="130.84,214.32 136.64,214.32 133.74,219.87" fill="#000"/><polygon points="134.48,213.08 140.28,213.08 137.38,218.63" fill="#000"/><polygon points="138.13,211.36 143.93,211.36 141.03,216.91" fill="#000"/><polygon points="141.78,203.02 147.58,203.02 144.68,208.57" fill="#000"/><polygon points="145.43,192.46 151.23,192.46 148.33,198.01" fill="#000"/><polygon points="149.07,184.81 154.87,184.81 151.97,190.36" fill="#000"/><polygon points="152.72,180.15 158.52,180.15 155.62,185.70" fill="#000"/><polygon points="156.34,176.57 162.14,176.57 159.24,182.12" fill="#000"/><polygon points="159.85,174.07 165.65,174.07 162.75,179.62" fill="#000"/><polygon points="163.28,172.07 169.08,172.07 166.18,177.62" fill="#000"/><polygon points="166.71,170.25 172.51,170.25 169.61,175.80" fill="#000"/><polygon points="170.13,168.57 175.93,168.57 173.03,174.12" fill="#000"/><polygon points="173.54,167.09 179.34,167.09 176.44,172.64" fill="#000"/><polygon points="176.94,165.85 182.74,165.85 179.84,171.40" fill="#000"/><polygon points="180.34,164.78 186.14,164.78 183.24,170.33" fill="#000"/><polygon points="183.72,163.80 189.52,163.80 186.62,169.35" fill="#000"/><polygon points="187.10,162.83 192.90,162.83 190.00,168.38" fill="#000"/><polygon points="190.48,161.93 196.28,161.93 193.38,167.48" fill="#000"/><polygon points="193.84,161.02 199.64,161.02 196.74,166.57" fill="#000"/><polygon points="197.19,160.04 202.99,160.04 200.09,165.59" fill="#000"/><polygon points="200.54,158.91 206.34,158.91 203.44,164.46" fill="#000"/><polygon points="203.87,157.71 209.67,157.71 206.77,163.26" fill="#000"/><polygon points="207.15,156.53 212.95,156.53 210.05,162.08" fill="#000"/><polygon points="210.39,155.46 216.19,155.46 213.29,161.01" fill="#000"/><polygon points="213.60,154.54 219.40,154.54 216.50,160.09" fill="#000"/><polygon points="216.77,153.67 222.57,153.67 219.67,159.22" fill="#000"/><polygon points="219.90,152.90 225.70,152.90 222.80,158.45" fill="#000"/><polygon points="222.99,152.26 228.79,152.26 225.89,157.81" fill="#000"/><polygon points="226.04,151.73 231.84,151.73 228.94,157.28" fill="#000"/><polygon points="229.06,151.26 234.86,151.26 231.96,156.81" fill="#000"/><polygon points="232.04,150.85 237.84,150.85 234.94,156.40" fill="#000"/><polygon points="234.99,150.50 240.79,150.50 237.89,156.05" fill="#000"/><polygon points="237.92,150.16 243.72,150.16 240.82,155.71" fill="#000"/><polygon points="240.84,150.00 246.64,150.00 243.74,155.55" fill="#000"/><polygon points="243.76,150.27 249.56,150.27 246.66,155.82" fill="#000"/><polygon points="246.68,150.88 252.48,150.88 249.58,156.43" fill="#000"/><polygon points="249.59,151.69 255.39,151.69 252.49,157.24" fill="#000"/><polygon points="252.50,152.76 258.30,152.76 255.40,158.31" fill="#000"/><polygon points="255.41,154.48 261.21,154.48 258.31,160.03" fill="#000"/><polygon points="258.32,156.47 264.12,156.47 261.22,162.02" fill="#000"/><polygon points="261.23,158.81 267.03,158.81 264.13,164.36" fill="#000"/><polygon points="264.13,161.44 269.93,161.44 267.03,166.99" fill="#000"/><polygon points="267.03,164.01 272.83,164.01 269.93,169.56" fill="#000"/><polygon points="269.93,166.62 275.73,166.62 272.83,172.17" fill="#000"/><polygon points="272.83,169.26 278.63,169.26 275.73,174.81" fill="#000"/><polygon points="275.73,171.85 281.53,171.85 278.63,177.40" fill="#000"/><polygon points="278.62,174.34 284.42,174.34 281.52,179.89" fill="#000"/><polygon points="281.51,176.66 287.31,176.66 284.41,182.21" fill="#000"/><polygon points="284.41,179.10 290.21,179.10 287.31,184.65" fill="#000"/><polygon points="287.30,181.96 293.10,181.96 290.20,187.51" fill="#000"/><polygon points="290.20,185.18 296.00,185.18 293.10,190.73" fill="#000"/><polygon points="293.11,188.55 298.91,188.55 296.01,194.10" fill="#000"/><polygon points="296.02,191.82 301.82,191.82 298.92,197.37" fill="#000"/><polygon points="298.93,194.83 304.73,194.83 301.83,200.38" fill="#000"/><polygon points="301.84,197.74 307.64,197.74 304.74,203.29" fill="#000"/><polygon points="304.76,200.46 310.56,200.46 307.66,206.01" fill="#000"/><polygon points="307.68,202.85 313.48,202.85 310.58,208.40" fill="#000"/><polygon points="310.60,204.99 316.40,204.99 313.50,210.54" fill="#000"/><polygon points="313.53,206.95 319.33,206.95 316.43,212.50" fill="#000"/><polygon points="316.45,208.79 322.25,208.79 319.35,214.34" fill="#000"/><polygon points="319.39,210.62 325.19,210.62 322.29,216.17" fill="#000"/><polygon points="322.32,212.34 328.12,212.34 325.22,217.89" fill="#000"/><polygon points="325.26,213.49 331.06,213.49 328.16,219.04" fill="#000"/><polygon points="328.20,214.24 334.00,214.24 331.10,219.79" fill="#000"/><polygon points="331.14,214.39 336.94,214.39 334.04,219.94" fill="#000"/><polygon points="334.09,214.45 339.89,214.45 336.99,220.00" fill="#000"/><polygon points="337.04,214.49 342.84,214.49 339.94,220.04" fill="#000"/><polygon points="340.00,214.51 345.80,214.51 342.90,220.06" fill="#000"/></g>
<rect x="36.0" y="4.0" width="349.0" height="250.9" fill="none" stroke="#444" stroke-width="1.5"/>
<path d="M70.90 254.9V250.9M105.80 254.9V250.9M140.70 254.9V250.9M175.60 254.9V250.9M210.50 254.9V250.9M245.40 254.9V250.9M280.30 254.9V250.9M315.20 254.9V250.9M350.10 254.9V250.9M36.0 219.06H40.2M36.0 183.21H40.2M36.0 147.37H40.2M36.0 111.53H40.2M36.0 75.69H40.2M36.0 39.84H40.2" stroke="#000" stroke-width="1.4" fill="none"/>
<g font-family="Liberation Serif, Times New Roman, serif" font-size="9.9" fill="#000" stroke="#000" stroke-width="0.15">
<text x="36.00" y="268.9" text-anchor="middle">0</text>
<text x="70.90" y="268.9" text-anchor="middle">20</text>
<text x="105.80" y="268.9" text-anchor="middle">40</text>
<text x="140.70" y="268.9" text-anchor="middle">60</text>
<text x="175.60" y="268.9" text-anchor="middle">80</text>
<text x="210.50" y="268.9" text-anchor="middle">100</text>
<text x="245.40" y="268.9" text-anchor="middle">120</text>
<text x="280.30" y="268.9" text-anchor="middle">140</text>
<text x="315.20" y="268.9" text-anchor="middle">160</text>
<text x="350.10" y="268.9" text-anchor="middle">180</text>
<text x="385.00" y="268.9" text-anchor="middle">200</text>
<text x="31.1" y="258.20" text-anchor="end">-2</text>
<text x="31.1" y="222.36" text-anchor="end">0</text>
<text x="31.1" y="186.51" text-anchor="end">2</text>
<text x="31.1" y="150.67" text-anchor="end">4</text>
<text x="31.1" y="114.83" text-anchor="end">6</text>
<text x="31.1" y="78.99" text-anchor="end">8</text>
<text x="31.1" y="43.14" text-anchor="end">10</text>
<text x="31.1" y="7.30" text-anchor="end">12</text>
</g>
<text font-family="Liberation Serif, Times New Roman, serif" font-size="13.8" fill="#000" stroke="#000" stroke-width="0.15" x="164.3" y="293.6">Temperature(<tspan font-size="9.5" dy="-6.2">o</tspan><tspan dy="6.2">C)</tspan></text>
<text font-family="Liberation Serif, Times New Roman, serif" font-size="13.85" fill="#000" stroke="#000" stroke-width="0.15" transform="translate(10.0,192) rotate(-90)">Recovery stress (MPa)</text>
<text font-family="Liberation Serif, Times New Roman, serif" font-size="11.8" fill="#000" stroke="#000" stroke-width="0.15" x="280.8" y="20.2">PLA/TPU (60/40)</text>
<g font-family="Liberation Serif, Times New Roman, serif" font-size="9.65" fill="#000" stroke="#000" stroke-width="0.15">
<polygon points="274.55,36.20 279.05,36.20 276.80,32.15" fill="#fff" stroke="#000" stroke-width="1.15" stroke-linejoin="round"/>
<text x="293.8" y="37.85">25<tspan font-size="6.8" dy="-4.9">o</tspan><tspan dy="4.9">C non-annealed</tspan></text>
<polygon points="273.90,51.80 279.70,51.80 276.80,46.25" fill="#000"/>
<text x="293.8" y="53.10">25<tspan font-size="6.8" dy="-4.9">o</tspan><tspan dy="4.9">C annealed 3 hr</tspan></text>
<circle cx="276.80" cy="64.30" r="1.7" fill="#fff" stroke="#000" stroke-width="1.15" stroke-linejoin="round"/>
<text x="293.8" y="68.35">80<tspan font-size="6.8" dy="-4.9">o</tspan><tspan dy="4.9">C non-annealed</tspan></text>
<circle cx="276.80" cy="79.30" r="2.4" fill="#000"/>
<text x="293.8" y="83.60">80<tspan font-size="6.8" dy="-4.9">o</tspan><tspan dy="4.9">C annealed 3 hr</tspan></text>
<polygon points="274.55,93.40 279.05,93.40 276.80,97.45" fill="#fff" stroke="#000" stroke-width="1.15" stroke-linejoin="round"/>
<text x="293.8" y="98.85">120<tspan font-size="6.8" dy="-4.9">o</tspan><tspan dy="4.9">C non-annealed</tspan></text>
<polygon points="273.90,108.05 279.70,108.05 276.80,113.60" fill="#000"/>
<text x="293.8" y="114.10">120<tspan font-size="6.8" dy="-4.9">o</tspan><tspan dy="4.9">C annealed 3 hr</tspan></text>
</g>
</svg>
</body></html>
